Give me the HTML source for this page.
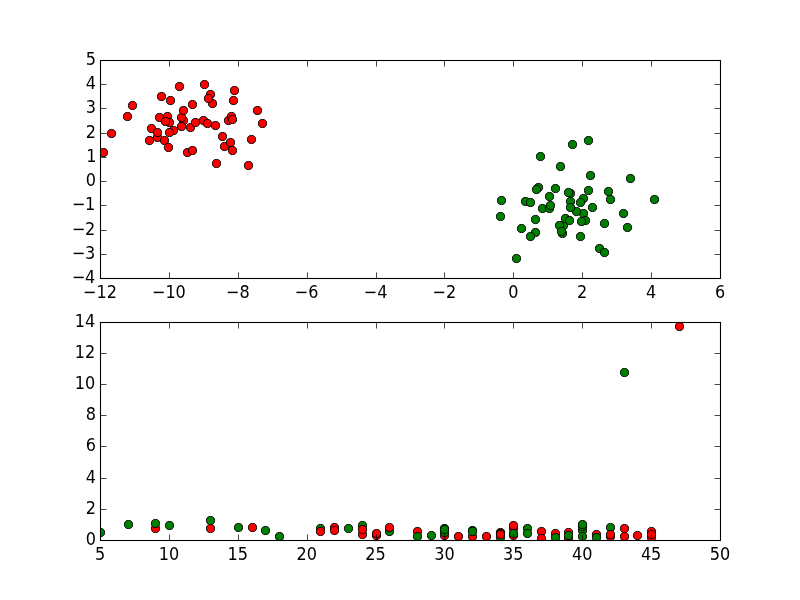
<!DOCTYPE html>
<html lang="en"><head><meta charset="utf-8"><title>Scatter plots</title>
<style>html,body{margin:0;padding:0;background:#fff;}body{width:800px;height:600px;overflow:hidden;}svg{display:block;}text{font-family:"DejaVu Sans","Liberation Sans",sans-serif;font-size:16.67px;fill:#000;}.m{stroke:#000;stroke-width:0.95;}.r{fill:#ff0000;}.g{fill:#008000;}.t{stroke:#000;stroke-width:0.72;fill:none;}.f{stroke:#000;stroke-width:1.1;fill:none;}</style></head><body>
<svg width="800" height="600" viewBox="0 0 800 600">
<rect x="0" y="0" width="800" height="600" fill="#ffffff"/>
<defs><clipPath id="c1"><rect x="100.00" y="60.00" width="620.00" height="218.18"/></clipPath><clipPath id="c2"><rect x="100.00" y="321.82" width="620.00" height="218.18"/></clipPath></defs>
<g clip-path="url(#c1)">
<circle class="m r" cx="103.50" cy="152.50" r="4.07"/>
<circle class="m r" cx="111.50" cy="133.50" r="4.07"/>
<circle class="m r" cx="127.50" cy="116.50" r="4.07"/>
<circle class="m r" cx="132.50" cy="105.50" r="4.07"/>
<circle class="m r" cx="149.50" cy="140.50" r="4.07"/>
<circle class="m r" cx="151.50" cy="128.50" r="4.07"/>
<circle class="m r" cx="157.50" cy="137.50" r="4.07"/>
<circle class="m r" cx="157.50" cy="132.50" r="4.07"/>
<circle class="m r" cx="159.50" cy="117.50" r="4.07"/>
<circle class="m r" cx="161.50" cy="96.50" r="4.07"/>
<circle class="m r" cx="164.50" cy="140.50" r="4.07"/>
<circle class="m r" cx="167.50" cy="116.50" r="4.07"/>
<circle class="m r" cx="169.50" cy="122.50" r="4.07"/>
<circle class="m r" cx="165.50" cy="121.50" r="4.07"/>
<circle class="m r" cx="168.50" cy="147.50" r="4.07"/>
<circle class="m r" cx="173.50" cy="130.50" r="4.07"/>
<circle class="m r" cx="169.50" cy="132.50" r="4.07"/>
<circle class="m r" cx="170.50" cy="100.50" r="4.07"/>
<circle class="m r" cx="179.50" cy="86.50" r="4.07"/>
<circle class="m r" cx="183.50" cy="120.50" r="4.07"/>
<circle class="m r" cx="181.50" cy="117.50" r="4.07"/>
<circle class="m r" cx="181.50" cy="126.50" r="4.07"/>
<circle class="m r" cx="183.50" cy="110.50" r="4.07"/>
<circle class="m r" cx="187.50" cy="152.50" r="4.07"/>
<circle class="m r" cx="192.50" cy="150.50" r="4.07"/>
<circle class="m r" cx="190.50" cy="127.50" r="4.07"/>
<circle class="m r" cx="192.50" cy="104.50" r="4.07"/>
<circle class="m r" cx="195.50" cy="122.50" r="4.07"/>
<circle class="m r" cx="203.50" cy="120.50" r="4.07"/>
<circle class="m r" cx="207.50" cy="123.50" r="4.07"/>
<circle class="m r" cx="204.50" cy="84.50" r="4.07"/>
<circle class="m r" cx="210.50" cy="94.50" r="4.07"/>
<circle class="m r" cx="212.50" cy="103.50" r="4.07"/>
<circle class="m r" cx="208.50" cy="98.50" r="4.07"/>
<circle class="m r" cx="215.50" cy="125.50" r="4.07"/>
<circle class="m r" cx="216.50" cy="163.50" r="4.07"/>
<circle class="m r" cx="222.50" cy="136.50" r="4.07"/>
<circle class="m r" cx="224.50" cy="146.50" r="4.07"/>
<circle class="m r" cx="228.50" cy="120.50" r="4.07"/>
<circle class="m r" cx="231.50" cy="116.50" r="4.07"/>
<circle class="m r" cx="232.50" cy="119.50" r="4.07"/>
<circle class="m r" cx="230.50" cy="142.50" r="4.07"/>
<circle class="m r" cx="232.50" cy="150.50" r="4.07"/>
<circle class="m r" cx="233.50" cy="100.50" r="4.07"/>
<circle class="m r" cx="234.50" cy="90.50" r="4.07"/>
<circle class="m r" cx="248.50" cy="165.50" r="4.07"/>
<circle class="m r" cx="251.50" cy="139.50" r="4.07"/>
<circle class="m r" cx="257.50" cy="110.50" r="4.07"/>
<circle class="m r" cx="262.50" cy="123.50" r="4.07"/>
<circle class="m g" cx="501.50" cy="200.50" r="4.07"/>
<circle class="m g" cx="500.50" cy="216.50" r="4.07"/>
<circle class="m g" cx="516.50" cy="258.50" r="4.07"/>
<circle class="m g" cx="521.50" cy="228.50" r="4.07"/>
<circle class="m g" cx="525.50" cy="201.50" r="4.07"/>
<circle class="m g" cx="530.50" cy="202.50" r="4.07"/>
<circle class="m g" cx="535.50" cy="232.50" r="4.07"/>
<circle class="m g" cx="530.50" cy="236.50" r="4.07"/>
<circle class="m g" cx="535.50" cy="219.50" r="4.07"/>
<circle class="m g" cx="538.50" cy="187.50" r="4.07"/>
<circle class="m g" cx="536.50" cy="189.50" r="4.07"/>
<circle class="m g" cx="540.50" cy="156.50" r="4.07"/>
<circle class="m g" cx="542.50" cy="208.50" r="4.07"/>
<circle class="m g" cx="549.50" cy="208.50" r="4.07"/>
<circle class="m g" cx="550.50" cy="205.50" r="4.07"/>
<circle class="m g" cx="549.50" cy="196.50" r="4.07"/>
<circle class="m g" cx="555.50" cy="188.50" r="4.07"/>
<circle class="m g" cx="560.50" cy="166.50" r="4.07"/>
<circle class="m g" cx="563.50" cy="225.50" r="4.07"/>
<circle class="m g" cx="559.50" cy="225.50" r="4.07"/>
<circle class="m g" cx="565.50" cy="218.50" r="4.07"/>
<circle class="m g" cx="562.50" cy="233.50" r="4.07"/>
<circle class="m g" cx="561.50" cy="231.50" r="4.07"/>
<circle class="m g" cx="569.50" cy="220.50" r="4.07"/>
<circle class="m g" cx="570.50" cy="193.50" r="4.07"/>
<circle class="m g" cx="568.50" cy="192.50" r="4.07"/>
<circle class="m g" cx="570.50" cy="201.50" r="4.07"/>
<circle class="m g" cx="572.50" cy="144.50" r="4.07"/>
<circle class="m g" cx="580.50" cy="236.50" r="4.07"/>
<circle class="m g" cx="583.50" cy="198.50" r="4.07"/>
<circle class="m g" cx="580.50" cy="202.50" r="4.07"/>
<circle class="m g" cx="583.50" cy="213.50" r="4.07"/>
<circle class="m g" cx="576.50" cy="211.50" r="4.07"/>
<circle class="m g" cx="570.50" cy="207.50" r="4.07"/>
<circle class="m g" cx="585.50" cy="220.50" r="4.07"/>
<circle class="m g" cx="581.50" cy="221.50" r="4.07"/>
<circle class="m g" cx="588.50" cy="140.50" r="4.07"/>
<circle class="m g" cx="588.50" cy="190.50" r="4.07"/>
<circle class="m g" cx="590.50" cy="175.50" r="4.07"/>
<circle class="m g" cx="592.50" cy="207.50" r="4.07"/>
<circle class="m g" cx="599.50" cy="248.50" r="4.07"/>
<circle class="m g" cx="604.50" cy="252.50" r="4.07"/>
<circle class="m g" cx="604.50" cy="223.50" r="4.07"/>
<circle class="m g" cx="608.50" cy="191.50" r="4.07"/>
<circle class="m g" cx="610.50" cy="199.50" r="4.07"/>
<circle class="m g" cx="623.50" cy="213.50" r="4.07"/>
<circle class="m g" cx="627.50" cy="227.50" r="4.07"/>
<circle class="m g" cx="630.50" cy="178.50" r="4.07"/>
<circle class="m g" cx="654.50" cy="199.50" r="4.07"/>
</g>
<path class="t" d="M100.50 278.50v-6.06M100.50 60.50v6.06M169.50 278.50v-6.06M169.50 60.50v6.06M238.50 278.50v-6.06M238.50 60.50v6.06M307.50 278.50v-6.06M307.50 60.50v6.06M376.50 278.50v-6.06M376.50 60.50v6.06M444.50 278.50v-6.06M444.50 60.50v6.06M513.50 278.50v-6.06M513.50 60.50v6.06M582.50 278.50v-6.06M582.50 60.50v6.06M651.50 278.50v-6.06M651.50 60.50v6.06M720.50 278.50v-6.06M720.50 60.50v6.06M100.50 278.50h6.06M720.50 278.50h-6.06M100.50 254.50h6.06M720.50 254.50h-6.06M100.50 230.50h6.06M720.50 230.50h-6.06M100.50 205.50h6.06M720.50 205.50h-6.06M100.50 181.50h6.06M720.50 181.50h-6.06M100.50 157.50h6.06M720.50 157.50h-6.06M100.50 133.50h6.06M720.50 133.50h-6.06M100.50 108.50h6.06M720.50 108.50h-6.06M100.50 84.50h6.06M720.50 84.50h-6.06M100.50 60.50h6.06M720.50 60.50h-6.06"/>
<rect class="f" x="100.50" y="60.50" width="620.00" height="218.00"/>
<text transform="translate(100.00 298.00) scale(0.965 1.070)" text-anchor="middle">−12</text>
<text transform="translate(168.89 298.00) scale(0.965 1.070)" text-anchor="middle">−10</text>
<text transform="translate(237.78 298.00) scale(0.965 1.070)" text-anchor="middle">−8</text>
<text transform="translate(306.67 298.00) scale(0.965 1.070)" text-anchor="middle">−6</text>
<text transform="translate(375.56 298.00) scale(0.965 1.070)" text-anchor="middle">−4</text>
<text transform="translate(444.44 298.00) scale(0.965 1.070)" text-anchor="middle">−2</text>
<text transform="translate(513.33 298.00) scale(0.965 1.070)" text-anchor="middle">0</text>
<text transform="translate(582.22 298.00) scale(0.965 1.070)" text-anchor="middle">2</text>
<text transform="translate(651.11 298.00) scale(0.965 1.070)" text-anchor="middle">4</text>
<text transform="translate(720.00 298.00) scale(0.965 1.070)" text-anchor="middle">6</text>
<text transform="translate(95.20 283.00) scale(0.965 1.070)" text-anchor="end">−<tspan dx="-0.4">4</tspan></text>
<text transform="translate(95.20 259.00) scale(0.965 1.070)" text-anchor="end">−<tspan dx="-0.4">3</tspan></text>
<text transform="translate(95.20 235.00) scale(0.965 1.070)" text-anchor="end">−<tspan dx="-0.4">2</tspan></text>
<text transform="translate(95.20 210.00) scale(0.965 1.070)" text-anchor="end">−<tspan dx="-0.4">1</tspan></text>
<text transform="translate(95.90 186.00) scale(0.965 1.070)" text-anchor="end">0</text>
<text transform="translate(96.60 162.00) scale(0.965 1.070)" text-anchor="end">1</text>
<text transform="translate(95.90 138.00) scale(0.965 1.070)" text-anchor="end">2</text>
<text transform="translate(95.90 113.00) scale(0.965 1.070)" text-anchor="end">3</text>
<text transform="translate(95.90 89.00) scale(0.965 1.070)" text-anchor="end">4</text>
<text transform="translate(95.90 65.00) scale(0.965 1.070)" text-anchor="end">5</text>
<g clip-path="url(#c2)">
<circle class="m g" cx="100.50" cy="532.50" r="4.07"/>
<circle class="m g" cx="128.50" cy="524.50" r="4.07"/>
<circle class="m r" cx="155.50" cy="528.50" r="4.07"/>
<circle class="m g" cx="155.50" cy="523.50" r="4.07"/>
<circle class="m g" cx="169.50" cy="525.50" r="4.07"/>
<circle class="m r" cx="210.50" cy="528.50" r="4.07"/>
<circle class="m g" cx="210.50" cy="520.50" r="4.07"/>
<circle class="m g" cx="238.50" cy="527.50" r="4.07"/>
<circle class="m r" cx="252.50" cy="527.50" r="4.07"/>
<circle class="m g" cx="265.50" cy="530.50" r="4.07"/>
<circle class="m g" cx="279.50" cy="536.50" r="4.07"/>
<circle class="m g" cx="320.50" cy="528.50" r="4.07"/>
<circle class="m r" cx="320.50" cy="531.50" r="4.07"/>
<circle class="m r" cx="334.50" cy="527.50" r="4.07"/>
<circle class="m r" cx="334.50" cy="530.50" r="4.07"/>
<circle class="m g" cx="348.50" cy="528.50" r="4.07"/>
<circle class="m g" cx="362.50" cy="525.50" r="4.07"/>
<circle class="m r" cx="362.50" cy="534.50" r="4.07"/>
<circle class="m r" cx="362.50" cy="529.50" r="4.07"/>
<circle class="m r" cx="376.50" cy="535.50" r="4.07"/>
<circle class="m r" cx="376.50" cy="533.50" r="4.07"/>
<circle class="m g" cx="389.50" cy="531.50" r="4.07"/>
<circle class="m r" cx="389.50" cy="527.50" r="4.07"/>
<circle class="m r" cx="417.50" cy="531.50" r="4.07"/>
<circle class="m g" cx="417.50" cy="536.50" r="4.07"/>
<circle class="m g" cx="431.50" cy="535.50" r="4.07"/>
<circle class="m r" cx="444.50" cy="535.50" r="4.07"/>
<circle class="m g" cx="444.50" cy="532.50" r="4.07"/>
<circle class="m g" cx="444.50" cy="528.50" r="4.07"/>
<circle class="m g" cx="444.50" cy="529.50" r="4.07"/>
<circle class="m r" cx="458.50" cy="536.50" r="4.07"/>
<circle class="m r" cx="472.50" cy="536.50" r="4.07"/>
<circle class="m g" cx="472.50" cy="530.50" r="4.07"/>
<circle class="m g" cx="472.50" cy="531.50" r="4.07"/>
<circle class="m r" cx="486.50" cy="536.50" r="4.07"/>
<circle class="m r" cx="500.50" cy="532.50" r="4.07"/>
<circle class="m g" cx="500.50" cy="533.50" r="4.07"/>
<circle class="m g" cx="500.50" cy="537.50" r="4.07"/>
<circle class="m r" cx="500.50" cy="534.50" r="4.07"/>
<circle class="m r" cx="513.50" cy="528.50" r="4.07"/>
<circle class="m r" cx="513.50" cy="525.50" r="4.07"/>
<circle class="m r" cx="513.50" cy="535.50" r="4.07"/>
<circle class="m g" cx="513.50" cy="533.50" r="4.07"/>
<circle class="m g" cx="527.50" cy="528.50" r="4.07"/>
<circle class="m g" cx="527.50" cy="533.50" r="4.07"/>
<circle class="m r" cx="541.50" cy="531.50" r="4.07"/>
<circle class="m r" cx="541.50" cy="538.50" r="4.07"/>
<circle class="m r" cx="555.50" cy="533.50" r="4.07"/>
<circle class="m g" cx="555.50" cy="537.50" r="4.07"/>
<circle class="m r" cx="568.50" cy="538.50" r="4.07"/>
<circle class="m r" cx="568.50" cy="532.50" r="4.07"/>
<circle class="m g" cx="568.50" cy="535.50" r="4.07"/>
<circle class="m g" cx="582.50" cy="530.50" r="4.07"/>
<circle class="m g" cx="582.50" cy="526.50" r="4.07"/>
<circle class="m g" cx="582.50" cy="524.50" r="4.07"/>
<circle class="m g" cx="582.50" cy="536.50" r="4.07"/>
<circle class="m r" cx="596.50" cy="534.50" r="4.07"/>
<circle class="m g" cx="596.50" cy="537.50" r="4.07"/>
<circle class="m g" cx="610.50" cy="527.50" r="4.07"/>
<circle class="m r" cx="610.50" cy="536.50" r="4.07"/>
<circle class="m r" cx="610.50" cy="534.50" r="4.07"/>
<circle class="m r" cx="624.50" cy="528.50" r="4.07"/>
<circle class="m r" cx="624.50" cy="536.50" r="4.07"/>
<circle class="m g" cx="624.50" cy="372.50" r="4.07"/>
<circle class="m r" cx="637.50" cy="535.50" r="4.07"/>
<circle class="m r" cx="651.50" cy="531.50" r="4.07"/>
<circle class="m r" cx="651.50" cy="537.50" r="4.07"/>
<circle class="m r" cx="651.50" cy="534.50" r="4.07"/>
<circle class="m r" cx="679.50" cy="326.50" r="4.07"/>
</g>
<path class="t" d="M100.50 540.50v-6.06M100.50 322.50v6.06M169.50 540.50v-6.06M169.50 322.50v6.06M238.50 540.50v-6.06M238.50 322.50v6.06M307.50 540.50v-6.06M307.50 322.50v6.06M376.50 540.50v-6.06M376.50 322.50v6.06M444.50 540.50v-6.06M444.50 322.50v6.06M513.50 540.50v-6.06M513.50 322.50v6.06M582.50 540.50v-6.06M582.50 322.50v6.06M651.50 540.50v-6.06M651.50 322.50v6.06M720.50 540.50v-6.06M720.50 322.50v6.06M100.50 540.50h6.06M720.50 540.50h-6.06M100.50 509.50h6.06M720.50 509.50h-6.06M100.50 478.50h6.06M720.50 478.50h-6.06M100.50 446.50h6.06M720.50 446.50h-6.06M100.50 415.50h6.06M720.50 415.50h-6.06M100.50 384.50h6.06M720.50 384.50h-6.06M100.50 353.50h6.06M720.50 353.50h-6.06M100.50 322.50h6.06M720.50 322.50h-6.06"/>
<rect class="f" x="100.50" y="322.50" width="620.00" height="218.00"/>
<text transform="translate(100.00 560.00) scale(0.965 1.070)" text-anchor="middle">5</text>
<text transform="translate(168.89 560.00) scale(0.965 1.070)" text-anchor="middle">10</text>
<text transform="translate(237.78 560.00) scale(0.965 1.070)" text-anchor="middle">15</text>
<text transform="translate(306.67 560.00) scale(0.965 1.070)" text-anchor="middle">20</text>
<text transform="translate(375.56 560.00) scale(0.965 1.070)" text-anchor="middle">25</text>
<text transform="translate(444.44 560.00) scale(0.965 1.070)" text-anchor="middle">30</text>
<text transform="translate(513.33 560.00) scale(0.965 1.070)" text-anchor="middle">35</text>
<text transform="translate(582.22 560.00) scale(0.965 1.070)" text-anchor="middle">40</text>
<text transform="translate(651.11 560.00) scale(0.965 1.070)" text-anchor="middle">45</text>
<text transform="translate(720.00 560.00) scale(0.965 1.070)" text-anchor="middle">50</text>
<text transform="translate(95.90 545.00) scale(0.965 1.070)" text-anchor="end">0</text>
<text transform="translate(95.90 514.00) scale(0.965 1.070)" text-anchor="end">2</text>
<text transform="translate(95.90 483.00) scale(0.965 1.070)" text-anchor="end">4</text>
<text transform="translate(95.90 451.00) scale(0.965 1.070)" text-anchor="end">6</text>
<text transform="translate(95.90 420.00) scale(0.965 1.070)" text-anchor="end">8</text>
<text transform="translate(95.20 389.00) scale(0.965 1.070)" text-anchor="end">10</text>
<text transform="translate(95.20 358.00) scale(0.965 1.070)" text-anchor="end">12</text>
<text transform="translate(95.20 327.00) scale(0.965 1.070)" text-anchor="end">14</text>
</svg>
</body></html>
